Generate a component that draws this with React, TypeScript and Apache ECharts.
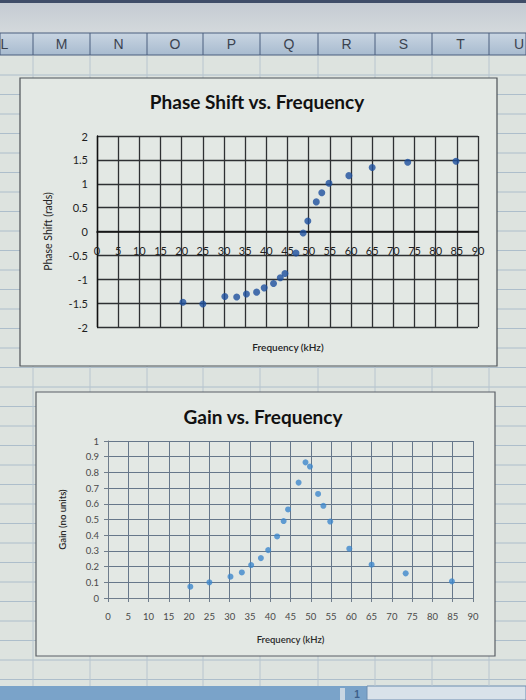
import React, { useEffect, useRef } from "react";
import * as echarts from "echarts";

// Measured frequencies (kHz) shared by both plots
const frequencyKHz = [20.3, 25.0, 30.2, 33.0, 35.3, 37.7, 39.5, 41.7, 43.3, 44.4, 47.0, 48.7, 49.8, 51.8, 53.1, 54.8, 59.5, 65.0, 73.4, 84.8];
// Phase shift (rads) at each frequency
const phaseShiftRads = [-1.48, -1.52, -1.36, -1.37, -1.31, -1.27, -1.18, -1.09, -0.97, -0.88, -0.45, -0.03, 0.22, 0.62, 0.81, 1.01, 1.17, 1.34, 1.45, 1.47];
// Gain (no units) at each frequency
const gainNoUnits = [0.072, 0.1, 0.136, 0.163, 0.21, 0.254, 0.305, 0.392, 0.49, 0.564, 0.735, 0.864, 0.837, 0.663, 0.587, 0.487, 0.314, 0.212, 0.157, 0.106];

// Spreadsheet column headings
const columnLetters = ["L", "M", "N", "O", "P", "Q", "R", "S", "T", "U"];

const FONT = "Lato, 'Open Sans', sans-serif";

// Phase plot area (px); the frequency axis sits on the zero line
const PHASE_TOP = 136;
const PHASE_BOTTOM = 327;

function buildSheetChrome(): any[] {
  const els: any[] = [];
  const colEdges = [33, 90, 147, 203, 260, 318, 375, 432, 489];
  // top window strip
  els.push({
    type: "rect", z: -10, shape: { x: 0, y: 0, width: 526, height: 33 },
    style: { fill: new echarts.graphic.LinearGradient(0, 0, 0, 1, [
      { offset: 0, color: "#c3cad2" }, { offset: 1, color: "#d4d9dc" }]) },
  });
  els.push({ type: "rect", z: -10, shape: { x: 0, y: 0, width: 526, height: 3 }, style: { fill: "#3f4d68" } });
  // column header bar
  els.push({
    type: "rect", z: -10, shape: { x: 0, y: 33, width: 526, height: 22 },
    style: { fill: new echarts.graphic.LinearGradient(0, 0, 0, 1, [
      { offset: 0, color: "#c9d5e2" }, { offset: 1, color: "#a8bbcf" }]), stroke: "#4a5f7e", lineWidth: 1 },
  });
  // body
  els.push({ type: "rect", z: -10, shape: { x: 0, y: 56, width: 526, height: 630 }, style: { fill: "#dde3df" } });
  for (let y = 75; y < 686; y += 19.5) {
    els.push({ type: "line", z: -9, shape: { x1: 0, y1: y, x2: 526, y2: y }, style: { stroke: "#adbecb", lineWidth: 1 } });
  }
  colEdges.forEach((x) => {
    els.push({ type: "line", z: -9, shape: { x1: x, y1: 33, x2: x, y2: 55 }, style: { stroke: "#4a5f7e", lineWidth: 1 } });
    els.push({ type: "line", z: -9, shape: { x1: x, y1: 56, x2: x, y2: 686 }, style: { stroke: "#b8c5cf", lineWidth: 1 } });
  });
  const centers = [4.5, 61.5, 118.5, 175, 231.5, 289, 346.5, 403.5, 460.5, 519];
  columnLetters.forEach((c, i) => {
    els.push({
      type: "text", z: -8, x: centers[i], y: 44,
      style: { text: c, fill: "#3b4350", font: "14px 'Liberation Sans', sans-serif", align: "center", verticalAlign: "middle" },
    });
  });
  // chart boxes
  els.push({ type: "rect", z: -7, shape: { x: 20, y: 78, width: 477, height: 288 }, style: { fill: "#e3e8e4", stroke: "#4d5258", lineWidth: 1.2 } });
  els.push({ type: "rect", z: -7, shape: { x: 36, y: 392, width: 459, height: 264 }, style: { fill: "#e3e8e4", stroke: "#5a5f66", lineWidth: 1.2 } });
  // bottom status bar
  els.push({ type: "rect", z: -10, shape: { x: 0, y: 686, width: 367, height: 14 }, style: { fill: "#7aa3c9" } });
  els.push({ type: "rect", z: -10, shape: { x: 367, y: 686, width: 159, height: 14 }, style: { fill: "#d9e2ea", stroke: "#6d8db0", lineWidth: 1 } });
  els.push({ type: "rect", z: -9, shape: { x: 340, y: 688, width: 5, height: 12 }, style: { fill: "#c9d6e2" } });
  els.push({ type: "text", z: -8, x: 357, y: 694, style: { text: "1", fill: "#3d5f8a", font: "bold 10px sans-serif", align: "center", verticalAlign: "middle" } });
  return els;
}

export default function App() {
  const ref = useRef<HTMLDivElement>(null);

  useEffect(() => {
    if (!ref.current) return;
    const chart = echarts.init(ref.current, undefined, { renderer: "svg" });
    const phasePoints = frequencyKHz.map((f, i) => [f, phaseShiftRads[i]]);
    const gainPoints = frequencyKHz.map((f, i) => [f, gainNoUnits[i]]);
    // lift the frequency axis from the bottom edge up to phase = 0 (range -2..2)
    const zeroLift = -(PHASE_BOTTOM - PHASE_TOP) / 2;

    chart.setOption({
      animation: false,
      backgroundColor: "#dde3df",
      textStyle: { fontFamily: FONT },
      grid: [
        { left: 97, right: 48, top: PHASE_TOP, bottom: 700 - PHASE_BOTTOM },
        { left: 108, right: 53, top: 441, bottom: 102 },
      ],
      xAxis: [
        {
          type: "value", gridIndex: 0, min: 0, max: 90, interval: 5,
          offset: zeroLift,
          axisLine: { onZero: false, lineStyle: { color: "#111", width: 1.6 } },
          axisTick: { show: false },
          axisLabel: { color: "#1e1e1e", fontSize: 11, margin: 13, fontFamily: FONT },
          splitLine: { show: true, lineStyle: { color: "#2e3033", width: 1.3 } },
        },
        {
          type: "value", gridIndex: 1, min: 0, max: 90, interval: 5,
          name: "Frequency (kHz)", nameLocation: "middle", nameGap: 36,
          nameTextStyle: { color: "#2a2a2a", fontSize: 9.5, fontWeight: 600, fontFamily: FONT },
          axisLine: { lineStyle: { color: "#6f7d8c", width: 1 } },
          axisTick: { show: true, length: 4, lineStyle: { color: "#6f7d8c" } },
          axisLabel: { color: "#4a4a4a", fontSize: 9.5, margin: 13, fontFamily: FONT },
          splitLine: { show: true, lineStyle: { color: "#66778a", width: 1 } },
        },
      ],
      yAxis: [
        {
          type: "value", gridIndex: 0, min: -2, max: 2, interval: 0.5,
          name: "Phase Shift (rads)", nameLocation: "middle", nameGap: 44,
          nameTextStyle: { color: "#222", fontSize: 10.5, fontFamily: FONT },
          axisLine: { show: true, onZero: false, lineStyle: { color: "#111", width: 1.4 } },
          axisTick: { show: false },
          axisLabel: { color: "#1e1e1e", fontSize: 11, margin: 9, fontFamily: FONT },
          splitLine: { show: true, lineStyle: { color: "#2e3033", width: 1.3 } },
        },
        {
          type: "value", gridIndex: 1, min: 0, max: 1, interval: 0.1,
          name: "Gain (no units)", nameLocation: "middle", nameGap: 41,
          nameTextStyle: { color: "#2a2a2a", fontSize: 9.5, fontWeight: 600, fontFamily: FONT },
          axisLine: { show: true, lineStyle: { color: "#6f7d8c", width: 1 } },
          axisTick: { show: true, length: 4, lineStyle: { color: "#6f7d8c" } },
          axisLabel: { color: "#4a4a4a", fontSize: 9.5, margin: 9, fontFamily: FONT },
          splitLine: { show: true, lineStyle: { color: "#66778a", width: 1 } },
        },
      ],
      series: [
        {
          name: "Phase Shift", type: "scatter", xAxisIndex: 0, yAxisIndex: 0,
          data: phasePoints, symbolSize: 7, itemStyle: { color: "#1d4f9e" },
        },
        {
          name: "Gain", type: "scatter", xAxisIndex: 1, yAxisIndex: 1,
          data: gainPoints, symbolSize: 6, itemStyle: { color: "#3d87cc" },
        },
      ],
      graphic: [
        ...buildSheetChrome(),
        {
          type: "text", x: 257, y: 101,
          style: { text: "Phase Shift vs. Frequency", fill: "#111", font: `bold 19px ${FONT}`, align: "center", verticalAlign: "middle" },
        },
        {
          type: "text", x: 263, y: 416,
          style: { text: "Gain vs. Frequency", fill: "#111", font: `bold 19px ${FONT}`, align: "center", verticalAlign: "middle" },
        },
        {
          type: "text", x: 288, y: 347,
          style: { text: "Frequency (kHz)", fill: "#222", font: `600 10px ${FONT}`, align: "center", verticalAlign: "middle" },
        },
      ],
    });
    return () => chart.dispose();
  }, []);

  return <div ref={ref} style={{ position: "absolute", left: 0, top: 0, width: 526, height: 700 }} />;
}
